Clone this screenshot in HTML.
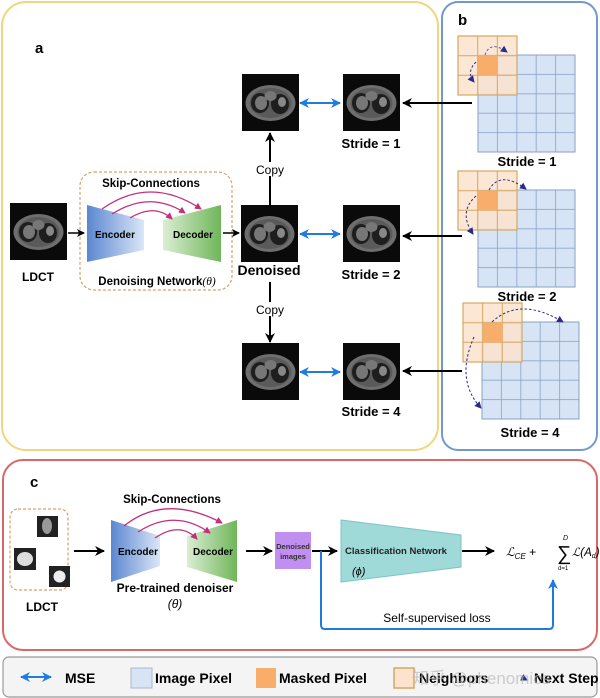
<!DOCTYPE html>
<html><head><meta charset="utf-8"><style>
html,body{margin:0;padding:0;background:#fff}
svg{display:block}
text{font-family:"Liberation Sans",Arial,sans-serif}
</style></head><body>
<svg width="600" height="698" viewBox="0 0 600 698" xmlns="http://www.w3.org/2000/svg">
<defs>
<pattern id="g1" x="478" y="55" width="19.4" height="19.4" patternUnits="userSpaceOnUse">
<rect width="19.4" height="19.4" fill="#d7e4f6" stroke="#8aa2c4" stroke-width="0.8"/></pattern>
<pattern id="g2" x="478" y="190" width="19.4" height="19.4" patternUnits="userSpaceOnUse">
<rect width="19.4" height="19.4" fill="#d7e4f6" stroke="#8aa2c4" stroke-width="0.8"/></pattern>
<pattern id="g3" x="482" y="322" width="19.4" height="19.4" patternUnits="userSpaceOnUse">
<rect width="19.4" height="19.4" fill="#d7e4f6" stroke="#8aa2c4" stroke-width="0.8"/></pattern>
<marker id="ab" markerWidth="8" markerHeight="8" refX="7" refY="4" orient="auto" markerUnits="userSpaceOnUse"><path d="M0,0 L8,4 L0,8 L2,4z" fill="#000"/></marker>
<marker id="abk" markerWidth="10" markerHeight="10" refX="9" refY="5" orient="auto" markerUnits="userSpaceOnUse"><path d="M0,0 L10,5 L0,10 L3,5z" fill="#000"/></marker>
<marker id="abl" markerWidth="10" markerHeight="10" refX="9" refY="5" orient="auto-start-reverse" markerUnits="userSpaceOnUse"><path d="M0,0 L10,5 L0,10 L3,5z" fill="#1e7be0"/></marker>
<marker id="ap" markerWidth="7" markerHeight="7" refX="6" refY="3.5" orient="auto" markerUnits="userSpaceOnUse"><path d="M0,0 L7,3.5 L0,7z" fill="#c2307a"/></marker>
<marker id="an" markerWidth="7" markerHeight="7" refX="6" refY="3.5" orient="auto" markerUnits="userSpaceOnUse"><path d="M0,0 L7,3.5 L0,7z" fill="#2a2a8a"/></marker>
<linearGradient id="enc" x1="0" x2="1"><stop offset="0" stop-color="#5b87d0"/><stop offset="1" stop-color="#dbe6f7"/></linearGradient>
<linearGradient id="dec" x1="0" x2="1"><stop offset="0" stop-color="#dbeed3"/><stop offset="1" stop-color="#6fb65a"/></linearGradient>
<g id="ct">
<rect width="57" height="57" fill="#0a0a0a"/>
<ellipse cx="28.5" cy="29" rx="25" ry="18" fill="#6e6e6e"/>
<ellipse cx="28.5" cy="29" rx="21" ry="15" fill="#5a5a5a"/>
<ellipse cx="18" cy="29" rx="9" ry="10" fill="#1e1e1e"/>
<ellipse cx="19" cy="29" rx="6" ry="7" fill="#777"/>
<ellipse cx="38" cy="30" rx="9" ry="10" fill="#1e1e1e"/>
<ellipse cx="40" cy="28" rx="4" ry="5" fill="#888"/>
<ellipse cx="28.5" cy="22" rx="6" ry="5" fill="#777"/>
</g>
</defs>

<rect x="2" y="2" width="436" height="448" rx="24" fill="#fff" stroke="#f0d67f" stroke-width="2"/>
<text x="35" y="53" font-size="15" font-weight="bold">a</text>
<rect x="442" y="2" width="155" height="448" rx="16" fill="#fff" stroke="#7399cc" stroke-width="2"/>
<text x="458" y="25" font-size="15" font-weight="bold">b</text>

<use href="#ct" x="242" y="74"/>
<use href="#ct" x="343" y="74"/>
<use href="#ct" x="10" y="203"/>
<use href="#ct" x="241" y="205"/>
<use href="#ct" x="343" y="205"/>
<use href="#ct" x="242" y="343"/>
<use href="#ct" x="343" y="343"/>

<text x="371" y="148" font-size="13" font-weight="bold" text-anchor="middle">Stride = 1</text>
<text x="371" y="279" font-size="13" font-weight="bold" text-anchor="middle">Stride = 2</text>
<text x="371" y="416" font-size="13" font-weight="bold" text-anchor="middle">Stride = 4</text>
<text x="38" y="281" font-size="12" font-weight="bold" text-anchor="middle">LDCT</text>
<text x="269" y="275" font-size="14" font-weight="bold" text-anchor="middle">Denoised</text>

<line x1="300" y1="103" x2="340" y2="103" stroke="#1e7be0" stroke-width="2" marker-start="url(#abl)" marker-end="url(#abl)"/>
<line x1="300" y1="234" x2="340" y2="234" stroke="#1e7be0" stroke-width="2" marker-start="url(#abl)" marker-end="url(#abl)"/>
<line x1="300" y1="372" x2="340" y2="372" stroke="#1e7be0" stroke-width="2" marker-start="url(#abl)" marker-end="url(#abl)"/>
<line x1="472" y1="103" x2="403" y2="103" stroke="#000" stroke-width="2" marker-end="url(#abk)"/>
<line x1="462" y1="236" x2="403" y2="236" stroke="#000" stroke-width="2" marker-end="url(#abk)"/>
<line x1="462" y1="371" x2="403" y2="371" stroke="#000" stroke-width="2" marker-end="url(#abk)"/>
<line x1="270" y1="205" x2="270" y2="133" stroke="#000" stroke-width="2" marker-end="url(#abk)"/>
<rect x="252" y="162" width="36" height="14" fill="#fff"/>
<text x="270" y="174" font-size="12" text-anchor="middle">Copy</text>
<line x1="270" y1="282" x2="270" y2="342" stroke="#000" stroke-width="2" marker-end="url(#abk)"/>
<rect x="252" y="302" width="36" height="14" fill="#fff"/>
<text x="270" y="314" font-size="12" text-anchor="middle">Copy</text>

<rect x="80" y="172" width="152" height="118" rx="14" fill="none" stroke="#d9a06a" stroke-width="1.2" stroke-dasharray="3,2"/>
<line x1="68" y1="233" x2="84" y2="233" stroke="#000" stroke-width="1.5" marker-end="url(#ab)"/>
<line x1="223" y1="233" x2="239" y2="233" stroke="#000" stroke-width="1.5" marker-end="url(#ab)"/>
<polygon points="87,205 144,220 144,250 87,262" fill="url(#enc)"/>
<polygon points="163,220 221,205 221,262 163,250" fill="url(#dec)"/>
<text x="115" y="238" font-size="10" font-weight="bold" text-anchor="middle">Encoder</text>
<text x="193" y="238" font-size="10" font-weight="bold" text-anchor="middle">Decoder</text>
<text x="151" y="187" font-size="11.5" font-weight="bold" text-anchor="middle">Skip-Connections</text>
<path d="M102,209 Q150,175 201,209" fill="none" stroke="#c2307a" stroke-width="1.3" marker-end="url(#ap)"/>
<path d="M112,214 Q150,190 185,213" fill="none" stroke="#c2307a" stroke-width="1.3" marker-end="url(#ap)"/>
<path d="M130,218 Q155,203 172,219" fill="none" stroke="#c2307a" stroke-width="1.3" marker-end="url(#ap)"/>
<text x="157" y="285" font-size="11.5" font-weight="bold" text-anchor="middle">Denoising Network<tspan font-family="Liberation Serif" font-style="italic" font-weight="normal">(θ)</tspan></text>

<g>
<rect x="478" y="55" width="97" height="97" fill="url(#g1)" stroke="#8aa2c4"/>
<rect x="458" y="36" width="59" height="59" fill="#fbe3cd" fill-opacity="0.85" stroke="#d4a862" stroke-width="1.2"/>
<path d="M458,55.7H517M458,75.3H517M477.7,36V95M497.3,36V95" stroke="#d4a862" stroke-width="1"/>
<rect x="478" y="56" width="19.3" height="19.3" fill="#f9ad6a"/>
<path d="M485,55 Q490,40 507,52" fill="none" stroke="#6a5a9a" stroke-width="1" stroke-dasharray="2.5,2" marker-end="url(#an)"/>
<path d="M476,62 Q466,72 474,82" fill="none" stroke="#2a2a8a" stroke-width="1" stroke-dasharray="2.5,2" marker-end="url(#an)"/>
<text x="527" y="166" font-size="13" font-weight="bold" text-anchor="middle">Stride = 1</text>
</g>
<g>
<rect x="478" y="190" width="97" height="97" fill="url(#g2)" stroke="#8aa2c4"/>
<rect x="458" y="171" width="59" height="59" fill="#fbe3cd" fill-opacity="0.85" stroke="#d4a862" stroke-width="1.2"/>
<path d="M458,190.7H517M458,210.3H517M477.7,171V230M497.3,171V230" stroke="#d4a862" stroke-width="1"/>
<rect x="478" y="191" width="19.3" height="19.3" fill="#f9ad6a"/>
<path d="M489,190 Q500,170 526,189" fill="none" stroke="#2a2a8a" stroke-width="1" stroke-dasharray="2.5,2" marker-end="url(#an)"/>
<path d="M476,196 Q458,212 473,234" fill="none" stroke="#2a2a8a" stroke-width="1" stroke-dasharray="2.5,2" marker-end="url(#an)"/>
<text x="527" y="301" font-size="13" font-weight="bold" text-anchor="middle">Stride = 2</text>
</g>
<g>
<rect x="482" y="322" width="97" height="97" fill="url(#g3)" stroke="#8aa2c4"/>
<rect x="463" y="303" width="59" height="59" fill="#fbe3cd" fill-opacity="0.85" stroke="#d4a862" stroke-width="1.2"/>
<path d="M463,322.7H522M463,342.3H522M482.7,303V362M502.3,303V362" stroke="#d4a862" stroke-width="1"/>
<rect x="483" y="323" width="19.3" height="19.3" fill="#f9ad6a"/>
<path d="M492,322 Q520,296 563,322" fill="none" stroke="#2a2a8a" stroke-width="1" stroke-dasharray="2.5,2" marker-end="url(#an)"/>
<path d="M474,337 Q455,380 481,408" fill="none" stroke="#2a2a8a" stroke-width="1" stroke-dasharray="2.5,2" marker-end="url(#an)"/>
<text x="530" y="437" font-size="13" font-weight="bold" text-anchor="middle">Stride = 4</text>
</g>

<!-- panel c -->
<rect x="3" y="460" width="594" height="190" rx="20" fill="#fff" stroke="#d9686b" stroke-width="2"/>
<text x="30" y="487" font-size="15" font-weight="bold">c</text>
<rect x="10" y="509" width="58" height="81" rx="8" fill="none" stroke="#d9a06a" stroke-width="1.2" stroke-dasharray="3,2"/>
<rect x="37" y="516" width="21" height="21" fill="#222"/><ellipse cx="47" cy="526" rx="5" ry="8" fill="#999"/>
<rect x="14" y="548" width="22" height="22" fill="#222"/><ellipse cx="25" cy="559" rx="8" ry="7" fill="#ddd"/>
<rect x="49" y="566" width="21" height="21" fill="#222"/><circle cx="59.5" cy="576.5" r="6" fill="#eee"/>
<text x="42" y="611" font-size="12" font-weight="bold" text-anchor="middle">LDCT</text>
<line x1="74" y1="551" x2="104" y2="551" stroke="#000" stroke-width="2" marker-end="url(#abk)"/>
<polygon points="111,520 160,536 160,566 111,582" fill="url(#enc)"/>
<polygon points="187,536 237,520 237,582 187,567" fill="url(#dec)"/>
<text x="138" y="555" font-size="10" font-weight="bold" text-anchor="middle">Encoder</text>
<text x="213" y="555" font-size="10" font-weight="bold" text-anchor="middle">Decoder</text>
<text x="172" y="503" font-size="11.5" font-weight="bold" text-anchor="middle">Skip-Connections</text>
<path d="M124,526 Q165,493 222,523" fill="none" stroke="#c2307a" stroke-width="1.3" marker-end="url(#ap)"/>
<path d="M138,532 Q175,508 210,533" fill="none" stroke="#c2307a" stroke-width="1.3" marker-end="url(#ap)"/>
<path d="M155,538 Q180,521 197,539" fill="none" stroke="#c2307a" stroke-width="1.3" marker-end="url(#ap)"/>
<text x="175" y="592" font-size="12" font-weight="bold" text-anchor="middle">Pre-trained denoiser</text>
<text x="175" y="608" font-size="12" font-family="Liberation Serif" font-style="italic" text-anchor="middle">(θ)</text>
<line x1="246" y1="551" x2="272" y2="551" stroke="#000" stroke-width="2" marker-end="url(#abk)"/>
<rect x="275" y="532" width="36" height="37" fill="#c08ff0"/>
<text x="293" y="549" font-size="7.5" font-weight="bold" text-anchor="middle" fill="#333">Denoised</text>
<text x="293" y="559" font-size="7.5" font-weight="bold" text-anchor="middle" fill="#333">images</text>
<line x1="312" y1="551" x2="337" y2="551" stroke="#000" stroke-width="2" marker-end="url(#abk)"/>
<polygon points="341,520 461,535 461,567 341,582" fill="#9fdad8" stroke="#7cc4c4"/>
<text x="396" y="554" font-size="9.5" font-weight="bold" text-anchor="middle" fill="#222">Classification Network</text>
<text x="352" y="575" font-size="11" font-family="Liberation Serif" font-style="italic">(ϕ)</text>
<line x1="462" y1="551" x2="494" y2="551" stroke="#000" stroke-width="2" marker-end="url(#abk)"/>
<text x="506" y="556" font-size="12" font-family="Liberation Serif" font-style="italic">ℒ<tspan font-size="8" dy="3">CE</tspan><tspan dy="-3" font-style="normal"> + </tspan></text>
<text x="557" y="560" font-size="20" font-family="Liberation Serif">∑</text>
<text x="563" y="540" font-size="7" font-family="Liberation Serif" font-style="italic">D</text>
<text x="558" y="570" font-size="6" font-family="Liberation Serif">d=1</text>
<text x="572" y="556" font-size="11.5" font-family="Liberation Serif" font-style="italic">ℒ(A<tspan font-size="7" dy="2">d</tspan><tspan dy="-2">)</tspan></text>
<path d="M321,551 V625 Q321,629 325,629 H549 Q553,629 553,625 V580" fill="none" stroke="#1e7be0" stroke-width="2" marker-end="url(#abl)"/>
<text x="437" y="622" font-size="12" text-anchor="middle">Self-supervised loss</text>

<!-- legend -->
<rect x="3" y="657" width="594" height="40" rx="6" fill="#f4f4f4" stroke="#999" stroke-width="1.2"/>
<line x1="21" y1="677" x2="51" y2="677" stroke="#1e7be0" stroke-width="2" marker-start="url(#abl)" marker-end="url(#abl)"/>
<text x="65" y="683" font-size="14" font-weight="bold">MSE</text>
<rect x="131" y="668" width="21" height="20" fill="#d7e4f6" stroke="#aab8cc"/>
<text x="155" y="683" font-size="14" font-weight="bold">Image Pixel</text>
<rect x="256" y="668" width="20" height="20" fill="#f9ad6a"/>
<text x="279" y="683" font-size="14" font-weight="bold">Masked Pixel</text>
<rect x="394" y="668" width="20" height="20" fill="#fde3cd" stroke="#d4a862" stroke-width="1.5"/>
<text x="419" y="683" font-size="14" font-weight="bold">Neighbors</text>
<path d="M521,677 L527,680" stroke="#2a2a8a" stroke-width="1" marker-end="url(#an)"/>
<text x="534" y="683" font-size="14" font-weight="bold">Next Step</text>
<text x="412" y="684" font-size="17" fill="#bbb" fill-opacity="0.7" font-family="Liberation Sans,Noto Sans CJK SC,sans-serif">知乎 @phenomics</text>
</svg>
</body></html>
